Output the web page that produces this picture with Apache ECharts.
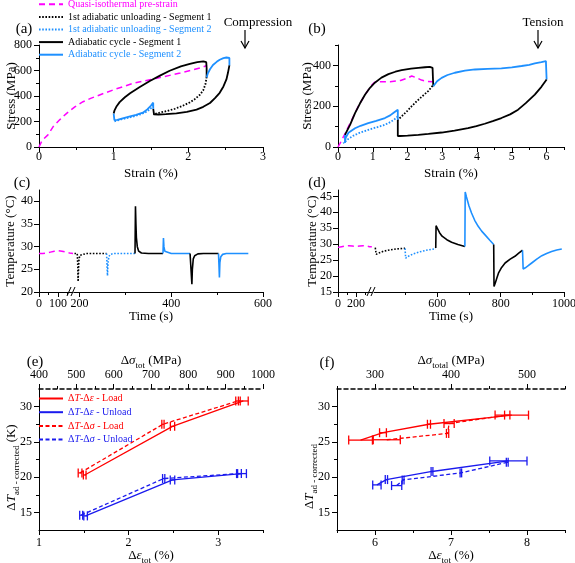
<!DOCTYPE html>
<html><head><meta charset="utf-8">
<script src="https://cdn.jsdelivr.net/npm/echarts@6/dist/echarts.min.js"></script>
<style>html,body{margin:0;padding:0;background:#fff}#c{width:575px;height:563px}</style>
</head><body><div id="c"></div><script>
const FONT = '"Liberation Serif","Times New Roman",serif';
const BLACK='#000000', BLUE='#1e90ff', MAG='#ff00ff', RED='#ff0000', DBLUE='#1a1aee';

// ---- (a) compression stress-strain (strain %, stress MPa)
const aPreStrain = [[0,0],[0.04,50],[0.12,95],[0.19,160],[0.28,215],[0.37,264],[0.48,315],[0.59,355],[0.7,383],[0.82,410],[0.99,447],[1.26,499],[1.58,540],[1.89,580],[2.05,603],[2.2,628],[2.25,640]];
const aUnload1 = [[2.245,551],[2.23,495],[2.2,445],[2.155,410],[2.08,372],[2.02,350],[1.92,322],[1.82,300],[1.72,283],[1.62,270],[1.53,256]];
const aUnload2 = [[1.53,330],[1.5,305],[1.45,280],[1.38,260],[1.3,245],[1.2,230],[1.1,216],[1.03,205],[1.0,200]];
const aCycle1a = [[1.0,262],[1.01,285],[1.04,320],[1.08,352],[1.15,390],[1.22,421],[1.35,470],[1.49,520],[1.62,560],[1.75,598],[1.9,632],[2.02,652],[2.12,666],[2.2,672],[2.24,665],[2.245,620],[2.245,551]];
const aCycle2a = [[2.245,545],[2.26,575],[2.29,610],[2.33,643],[2.38,668],[2.42,684],[2.47,697],[2.51,702],[2.55,698],[2.55,640]];
const aCycle1b = [[2.55,640],[2.53,580],[2.51,530],[2.47,475],[2.42,425],[2.36,385],[2.29,345],[2.2,315],[2.11,293],[1.98,275],[1.84,264],[1.7,258],[1.6,255],[1.54,256],[1.53,300]];
const aCycle2b = [[1.53,300],[1.53,348],[1.5,325],[1.45,295],[1.4,272],[1.3,252],[1.22,240],[1.12,225],[1.05,213],[1.01,210],[1.0,215],[1.0,262]];

// ---- (b) tension stress-strain
const bPreStrain = [[0,0],[0.06,18],[0.2,65],[0.4,135],[0.6,205],[0.8,262],[0.95,300],[1.06,318],[1.2,320],[1.5,320],[1.8,326],[2.0,338],[2.12,348],[2.25,340],[2.4,328],[2.55,322],[2.72,320]];
const bUnload1 = [[2.72,300],[2.6,275],[2.4,245],[2.25,222],[2.12,200],[1.98,175],[1.83,150],[1.72,133]];
const bUnload2 = [[1.72,150],[1.6,132],[1.45,117],[1.3,106],[1.1,96],[0.87,84],[0.6,68],[0.45,56],[0.3,40],[0.2,25],[0.15,18]];
const bCycle1a = [[0.2,59],[0.35,110],[0.49,166],[0.63,213],[0.78,257],[0.92,290],[1.06,315],[1.25,340],[1.45,357],[1.65,369],[1.83,377],[2.1,384],[2.31,388],[2.5,391],[2.64,393],[2.72,388],[2.73,340],[2.74,298]];
const bCycle2a = [[2.74,298],[2.85,322],[2.98,339],[3.15,353],[3.36,364],[3.65,374],[3.94,380],[4.3,383],[4.7,385],[5.0,390],[5.28,397],[5.5,403],[5.66,410],[5.85,416],[5.98,421],[6.0,421],[6.0,331]];
const bCycle1b = [[6.0,331],[5.85,295],[5.66,257],[5.4,215],[5.18,183],[4.95,160],[4.7,142],[4.45,127],[4.22,114],[3.98,102],[3.74,92],[3.35,80],[2.98,71],[2.6,64],[2.31,59],[2.0,56],[1.78,54],[1.72,54],[1.72,133]];
const bCycle2b = [[1.72,133],[1.72,183],[1.6,168],[1.5,155],[1.35,142],[1.1,128],[0.87,117],[0.65,104],[0.49,92],[0.3,70],[0.22,45],[0.2,20],[0.2,59]];

// ---- (c) compression temperature vs time (s, degC)
const cPreStrain = [[0,28.5],[20,28.5],[40,28.6],[60,28.8],[80,29.0],[100,29.1],[120,29.0],[140,28.8],[160,28.6],[178,28.5]];
const cUnload1 = [[189,28.5],[195,28.5],[196,26.5],[197,22.3],[198,25.5],[199,27.3],[201,28.1],[205,28.4],[215,28.5],[259,28.5]];
const cUnload2 = [[259,28.5],[260,26],[261,23.6],[262,26.3],[264,27.8],[267,28.3],[275,28.5],[321,28.5]];
const cCycle1a = [[321,28.5],[322,38.9],[323,35],[324,32],[326,30],[329,29],[335,28.6],[350,28.5],[382,28.5]];
const cCycle2a = [[382,28.5],[383,31.9],[384,30],[386,29],[390,28.6],[400,28.5],[441,28.5]];
const cCycle1b = [[441,28.5],[444,28.5],[445,21.7],[446,25],[448,27.3],[451,28],[458,28.4],[470,28.5],[503,28.5]];
const cCycle2b = [[503,28.5],[504,26],[505,23.2],[506,26.5],[508,27.8],[512,28.3],[520,28.5],[568,28.5]];

// ---- (d) tension temperature vs time
const dPreStrain = [[0,29.0],[40,29.2],[80,29.4],[120,29.5],[160,29.4],[200,29.3],[240,29.4],[280,29.5],[320,29.4],[350,29.2],[376,29.2]];
const dUnload1 = [[404,28.9],[406,29.3],[407,26.8],[415,27.2],[430,27.8],[450,28.2],[470,28.5],[498,28.7]];
const dUnload2 = [[498,28.7],[500,25.6],[510,26.3],[525,27.0],[545,27.6],[565,28.1],[595,28.6]];
const dCycle1a = [[595,28.8],[596,35.8],[600,35.0],[607,33.6],[615,32.5],[630,31.4],[645,30.6],[665,29.9],[687,29.3]];
const dCycle2a = [[687,29.3],[688,46.4],[692,44.8],[700,42],[708,39.8],[718,37.5],[729,35.6],[740,34.1],[750,33.0],[765,31.3],[778,29.9]];
const dCycle1b = [[778,29.9],[779,16.7],[783,17.8],[788,19.4],[793,20.9],[803,22.7],[814,24.1],[830,25.3],[845,26.2],[858,27.3],[869,28.1]];
const dCycle2b = [[869,28.1],[871,22.2],[878,22.6],[885,23.1],[898,24.1],[915,25.4],[930,26.4],[945,27.1],[961,27.7],[977,28.2],[993,28.5]];

// ---- (e) compression dT vs strain / stress  [x, dT, xError]
const eStrainLoad = [[1.51,20.3,0.015],[2.49,27.2,0.024],[3.28,30.8,0.055]];
const eStrainUnload = [[1.52,14.5,0.02],[2.49,19.6,0.025],[3.26,20.5,0.055]];
const eStressLoad = [[510,20.6,5],[732,27.5,3],[933,30.8,6]];
const eStressUnload = [[513,14.6,4],[734,19.8,3],[937,20.5,5]];

// ---- (f) tension dT vs strain / stress
const fStrainLoad = [[5.81,25.25,0.156],[6.105,26.3,0.045],[6.71,27.5,0.02],[7.80,28.8,0.22]];
const fStrainUnload = [[6.025,18.9,0.055],[6.15,19.65,0.015],[6.75,20.8,0.012],[7.755,22.3,0.245]];
const fStressLoad = [[315.5,25.3,17.8],[395.5,26.2,1.5],[397.5,27.6,6.7],[474,28.8,3.5]];
const fStressUnload = [[328.5,18.8,6.7],[337,19.6,1.2],[413,20.6,1],[474,22.1,1.2]];

// ---- tick labels
const aXTicks=[0,1,2,3], aYTicks=[0,200,400,600,800];
const bXTicks=[0,1,2,3,4,5,6], bYTicks=[0,200,400];
const cYTicks=[20,25,30,35,40], cXTicksL=[0,100], cXTicksR=[200,400,600];
const dYTicks=[15,20,25,30,35,40,45], dXTicksL=[0,200], dXTicksR=[600,800,1000];
const eXTicks=[1,2,3], eTopTicks=[400,500,600,700,800,900,1000], eYTicks=[15,20,25,30];
const fXTicks=[6,7,8], fTopTicks=[300,400,500], fYTicks=[15,20,25,30];

const N1='Quasi-isothermal pre-strain', N2='1st adiabatic unloading - Segment 1', N3='1st adiabatic unloading - Segment 2', N4='Adiabatic cycle - Segment 1', N5='Adiabatic cycle - Segment 2';
const E1='ΔT-Δε - Load', E2='ΔT-Δε - Unload', E3='ΔT-Δσ - Load', E4='ΔT-Δσ - Unload';

const rich = {
  n:{fontFamily:FONT,fontSize:13,color:'#000',lineHeight:18},
  i:{fontFamily:FONT,fontSize:13,fontStyle:'italic',color:'#000',lineHeight:18},
  s:{fontFamily:FONT,fontSize:9,color:'#000',lineHeight:10,verticalAlign:'bottom'}
};
const xAxes=[], yAxes=[];
function axis(list,o){
  const idx=list.length;
  list.push({
    type:'value', gridIndex:o.g, position:o.pos, min:o.min, max:o.max, show:o.show!==false,
    name:o.name||'', nameLocation:'middle', nameGap:o.gap||20, nameRotate:o.rot, nameMoveOverlap:false,
    nameTextStyle:{fontFamily:FONT,fontSize:13,color:'#000',rich:rich,padding:o.pad||0},
    axisLine:{show:true,onZero:false,lineStyle:{color:'#000',width:o.lw||1,type:o.lt||'solid'}},
    axisTick:{show:true,length:5,customValues:o.major||[],lineStyle:{color:'#000',width:1}},
    axisLabel:{show:!!o.labels,customValues:o.labels||[],fontFamily:FONT,fontSize:12,color:'#000',margin:o.m||6,
      formatter:function(v){return String(v);}},
    splitLine:{show:false}, minorTick:{show:false}, axisPointer:{show:false}
  });
  if(o.minor){
    list.push({type:'value',gridIndex:o.g,position:o.pos,min:o.min,max:o.max,
      axisLine:{show:false,onZero:false},axisTick:{show:true,length:3,customValues:o.minor,lineStyle:{color:'#000',width:1}},
      axisLabel:{show:false},splitLine:{show:false}});
  }
  return idx;
}
function hidden(list,g,min,max){ list.push({type:'value',gridIndex:g,min:min,max:max,show:false}); return list.length-1; }

// (a)
const xa=axis(xAxes,{g:0,pos:'bottom',min:0,max:3,major:aXTicks,labels:aXTicks,minor:[0.5,1.5,2.5],name:'Strain (%)',gap:20,m:4});
const ya=axis(yAxes,{g:0,pos:'left',min:0,max:800,major:aYTicks,labels:aYTicks,minor:[100,300,500,700],name:'Stress (MPa)',gap:21,rot:90,m:7});
// (b)
const xb=axis(xAxes,{g:1,pos:'bottom',min:0,max:6.5,major:bXTicks,labels:bXTicks,minor:[0.5,1.5,2.5,3.5,4.5,5.5,6.5],name:'Strain (%)',gap:20,m:4});
const yb=axis(yAxes,{g:1,pos:'left',min:0,max:500,major:bYTicks,labels:bYTicks,minor:[100,300,500],name:'Stress (MPa)',gap:24,rot:90,m:7});
// (c)
const xcl=axis(xAxes,{g:2,pos:'bottom',min:0,max:178,major:cXTicksL,labels:cXTicksL,minor:[50,150],m:6});
const ycl=axis(yAxes,{g:2,pos:'left',min:20,max:42.5,major:cYTicks,labels:cYTicks,name:'Temperature (°C)',gap:22,rot:90,m:6});
const xcr=axis(xAxes,{g:3,pos:'bottom',min:188,max:600,major:cXTicksR,labels:cXTicksR,minor:[300,500],m:6});
const ycr=hidden(yAxes,3,20,42.5);
// (d)
const xdl=axis(xAxes,{g:4,pos:'bottom',min:0,max:378,major:dXTicksL,labels:dXTicksL,minor:[100,300],m:6});
const ydl=axis(yAxes,{g:4,pos:'left',min:15,max:47,major:dYTicks,labels:dYTicks,name:'Temperature (°C)',gap:19,rot:90,m:6});
const xdr=axis(xAxes,{g:5,pos:'bottom',min:400,max:1000,major:dXTicksR,labels:dXTicksR,minor:[500,700,900],m:6});
const ydr=hidden(yAxes,5,15,47);
// (e)
const xeb=axis(xAxes,{g:6,pos:'bottom',min:1,max:3.5,major:eXTicks,labels:eXTicks,minor:[1.5,2.5,3.5],name:'{n|Δ}{i|ε}{s|tot}{n| (%)}',gap:17,m:7});
const xet=axis(xAxes,{g:6,pos:'top',min:400,max:1000,major:eTopTicks,labels:eTopTicks,minor:[450,550,650,750,850,950],name:'{n|Δ}{i|σ}{s|tot}{n| (MPa)}',gap:19,m:8,lt:[4,3],lw:1.5});
const ye=axis(yAxes,{g:6,pos:'left',min:12.5,max:32.5,major:eYTicks,labels:eYTicks,minor:[17.5,22.5,27.5],name:'{n|Δ}{i|T}{s|ad - corrected}{n| (K)}',gap:18,rot:90,m:7,pad:[0,16,0,0]});
// (f)
const xfb=axis(xAxes,{g:7,pos:'bottom',min:5.5,max:8.5,major:fXTicks,labels:fXTicks,minor:[5.5,6.5,7.5,8.5],name:'{n|Δ}{i|ε}{s|tot}{n| (%)}',gap:17,m:7});
const xft=axis(xAxes,{g:7,pos:'top',min:250,max:550,major:fTopTicks,labels:fTopTicks,minor:[250,350,450,550],name:'{n|Δ}{i|σ}{s|total}{n| (MPa)}',gap:19,m:8,lt:[4,3],lw:1.5});
const yf=axis(yAxes,{g:7,pos:'left',min:12.5,max:32.5,major:fYTicks,labels:fYTicks,minor:[17.5,22.5,27.5],name:'{n|Δ}{i|T}{s|ad - corrected}',gap:18,rot:90,m:7,pad:[0,34,0,0]});

function line(name,data,xi,yi,color,width,type){
  return {type:'line',name:name,data:data,xAxisIndex:xi,yAxisIndex:yi,showSymbol:false,symbol:'none',clip:false,animation:false,
    lineStyle:{color:color,width:width,type:type||'solid'},itemStyle:{color:color},emphasis:{disabled:true},z:2};
}
function errBars(data,xi,yi,color){
  return {type:'custom',xAxisIndex:xi,yAxisIndex:yi,data:data,dimensions:['x','y','e'],encode:{x:0,y:1},silent:true,animation:false,clip:false,z:3,
    renderItem:function(params,api){
      const x=api.value(0),y=api.value(1),e=api.value(2);
      const p0=api.coord([x-e,y]),p1=api.coord([x+e,y]);const h=4.5;
      const st={stroke:color,lineWidth:1.3};
      return {type:'group',children:[
        {type:'line',shape:{x1:p0[0],y1:p0[1],x2:p1[0],y2:p1[1]},style:st},
        {type:'line',shape:{x1:p0[0],y1:p0[1]-h,x2:p0[0],y2:p0[1]+h},style:st},
        {type:'line',shape:{x1:p1[0],y1:p1[1]-h,x2:p1[0],y2:p1[1]+h},style:st}]};
    }};
}
const xy=d=>d.map(p=>[p[0],p[1]]);
const DASH=[6,4], DOT=[1.6,1.6], EDASH=[4,2.5];
const series=[
  // (a)
  line(N1,aPreStrain,xa,ya,MAG,1.5,DASH),
  line(N2,aUnload1,xa,ya,BLACK,1.8,DOT),
  line(N3,aUnload2,xa,ya,BLUE,1.8,DOT),
  line(N4,aCycle1a,xa,ya,BLACK,1.8),
  line(N5,aCycle2a,xa,ya,BLUE,1.8),
  line(N4,aCycle1b,xa,ya,BLACK,1.8),
  line(N5,aCycle2b,xa,ya,BLUE,1.8),
  // (b)
  line(N1,bPreStrain,xb,yb,MAG,1.5,DASH),
  line(N2,bUnload1,xb,yb,BLACK,1.8,DOT),
  line(N3,bUnload2,xb,yb,BLUE,1.8,DOT),
  line(N4,bCycle1a,xb,yb,BLACK,1.8),
  line(N5,bCycle2a,xb,yb,BLUE,1.8),
  line(N4,bCycle1b,xb,yb,BLACK,1.8),
  line(N5,bCycle2b,xb,yb,BLUE,1.8),
  // (c)
  line(N1,cPreStrain,xcl,ycl,MAG,1.5,DASH),
  line(N2,cUnload1,xcr,ycr,BLACK,1.6,DOT),
  line(N3,cUnload2,xcr,ycr,BLUE,1.6,DOT),
  line(N4,cCycle1a,xcr,ycr,BLACK,1.6),
  line(N5,cCycle2a,xcr,ycr,BLUE,1.6),
  line(N4,cCycle1b,xcr,ycr,BLACK,1.6),
  line(N5,cCycle2b,xcr,ycr,BLUE,1.6),
  // (d)
  line(N1,dPreStrain,xdl,ydl,MAG,1.5,DASH),
  line(N2,dUnload1,xdr,ydr,BLACK,1.6,DOT),
  line(N3,dUnload2,xdr,ydr,BLUE,1.6,DOT),
  line(N4,dCycle1a,xdr,ydr,BLACK,1.6),
  line(N5,dCycle2a,xdr,ydr,BLUE,1.6),
  line(N4,dCycle1b,xdr,ydr,BLACK,1.6),
  line(N5,dCycle2b,xdr,ydr,BLUE,1.6),
  // (e)
  line(E1,xy(eStrainLoad),xeb,ye,RED,1.3),
  line(E2,xy(eStrainUnload),xeb,ye,DBLUE,1.3),
  line(E3,xy(eStressLoad),xet,ye,RED,1.3,EDASH),
  line(E4,xy(eStressUnload),xet,ye,DBLUE,1.3,EDASH),
  errBars(eStrainLoad,xeb,ye,RED), errBars(eStrainUnload,xeb,ye,DBLUE),
  errBars(eStressLoad,xet,ye,RED), errBars(eStressUnload,xet,ye,DBLUE),
  // (f)
  line(E1,xy(fStrainLoad),xfb,yf,RED,1.3),
  line(E2,xy(fStrainUnload),xfb,yf,DBLUE,1.3),
  line(E3,xy(fStressLoad),xft,yf,RED,1.3,EDASH),
  line(E4,xy(fStressUnload),xft,yf,DBLUE,1.3,EDASH),
  errBars(fStrainLoad,xfb,yf,RED), errBars(fStrainUnload,xfb,yf,DBLUE),
  errBars(fStressLoad,xft,yf,RED), errBars(fStressUnload,xft,yf,DBLUE)
];

function g(o){ return Object.assign({outerBoundsMode:'none',containLabel:false},o); }
const grids=[
  g({left:39,top:45,width:224,height:102}),
  g({left:338,top:45,width:226,height:102}),
  g({left:39,top:190,width:34,height:102}),
  g({left:74,top:190,width:189,height:102}),
  g({left:338,top:190,width:34,height:102}),
  g({left:374,top:190,width:190,height:102}),
  g({left:39,top:389,width:224,height:141}),
  g({left:337,top:389,width:228,height:141})
];

function txt(s,x,y,size){ return {type:'text',x:x,y:y,z:10,style:{text:s,fill:'#000',font:size+'px '+FONT,align:'center',verticalAlign:'middle'}}; }
function arrow(x,y1,y2){ return [
  {type:'line',z:10,shape:{x1:x,y1:y1,x2:x,y2:y2},style:{stroke:'#000',lineWidth:1.2}},
  {type:'polyline',z:10,shape:{points:[[x-4,y2-7],[x,y2],[x+4,y2-7]]},style:{stroke:'#000',fill:null,lineWidth:1.2}}]; }
function brk(x,y){ return [
  {type:'line',z:10,shape:{x1:x-4,y1:y+4,x2:x,y2:y-5},style:{stroke:'#000',lineWidth:1}},
  {type:'line',z:10,shape:{x1:x,y1:y+4,x2:x+4,y2:y-5},style:{stroke:'#000',lineWidth:1}}]; }

const LF=10;
const legRich={
  r:{color:RED,fontFamily:FONT,fontSize:LF,lineHeight:13}, ri:{color:RED,fontFamily:FONT,fontSize:LF,lineHeight:13,fontStyle:'italic'},
  b:{color:DBLUE,fontFamily:FONT,fontSize:LF,lineHeight:13}, bi:{color:DBLUE,fontFamily:FONT,fontSize:LF,lineHeight:13,fontStyle:'italic'}
};
const legFmt={};
legFmt[E1]='{r|Δ}{ri|T}{r|-Δ}{ri|ε}{r| - Load}';
legFmt[E2]='{b|Δ}{bi|T}{b|-Δ}{bi|ε}{b| - Unload}';
legFmt[E3]='{r|Δ}{ri|T}{r|-Δ}{ri|σ}{r| - Load}';
legFmt[E4]='{b|Δ}{bi|T}{b|-Δ}{bi|σ}{b| - Unload}';

const chart=echarts.init(document.getElementById('c'),null,{renderer:'canvas'});
chart.setOption({
  animation:false, backgroundColor:'#fff',
  grid:grids, xAxis:xAxes, yAxis:yAxes, series:series,
  legend:[
    {left:38,top:-2,orient:'vertical',padding:0,itemWidth:24,itemHeight:10,itemGap:0,selectedMode:false,
     itemStyle:{opacity:0},
     textStyle:{fontFamily:FONT,fontSize:LF,lineHeight:12.6,color:'#000'},
     data:[{name:N1,textStyle:{color:MAG}},{name:N2,textStyle:{color:BLACK}},{name:N3,textStyle:{color:BLUE}},{name:N4,textStyle:{color:BLACK}},{name:N5,textStyle:{color:BLUE}}]},
    {left:38,top:392,orient:'vertical',padding:0,itemWidth:24,itemHeight:10,itemGap:0.7,selectedMode:false,
     itemStyle:{opacity:0},
     textStyle:{fontFamily:FONT,fontSize:LF,lineHeight:13,rich:legRich},
     formatter:function(n){return legFmt[n];},
     data:[E1,E2,E3,E4]}
  ],
  graphic:[
    txt('(a)',24,29,15),txt('(b)',317,29,15),txt('(c)',22,183,15),txt('(d)',317,183,15),txt('(e)',35,362,15),txt('(f)',327,363,15),
    txt('Compression',258,23,13),txt('Tension',543,23,13),
    ...arrow(245,30,48),...arrow(538,30,48),
    ...brk(71,292),...brk(371,292),
    txt('Time (s)',151,317,13),txt('Time (s)',451,317,13)
  ]
});
</script></body></html>
